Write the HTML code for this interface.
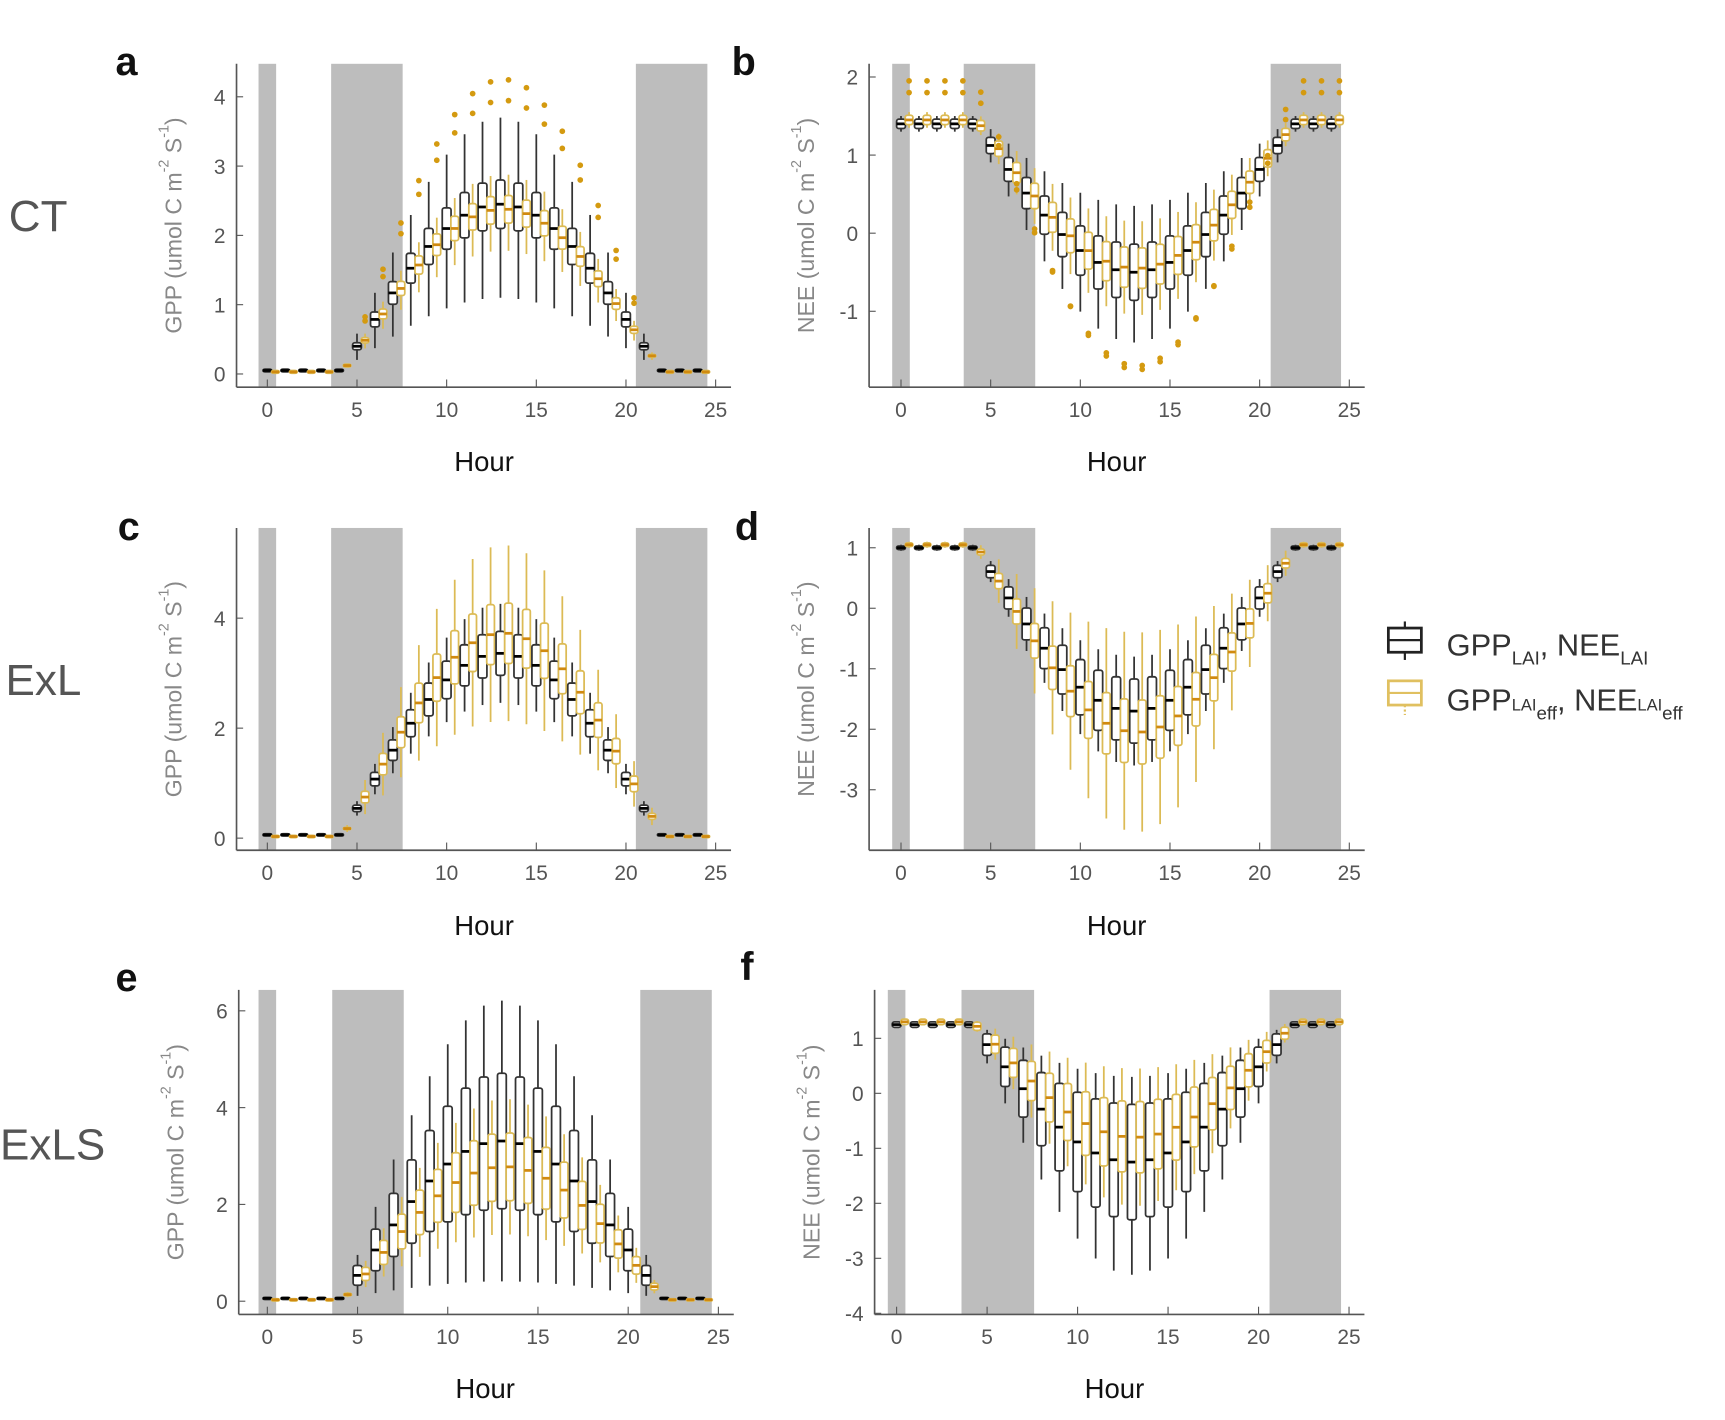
<!DOCTYPE html>
<html><head><meta charset="utf-8"><style>
html,body{margin:0;padding:0;background:#fff;}
svg{display:block;}
text{font-family:"Liberation Sans",sans-serif;}
</style></head><body>
<svg id="s" width="1725" height="1420" viewBox="0 0 1568 1291" preserveAspectRatio="none" xmlns="http://www.w3.org/2000/svg">
<rect width="1568" height="1291" fill="#fff"/>
<g font-weight="bold" font-size="36" fill="#111">
<text x="105" y="68">a</text><text x="665" y="68">b</text>
<text x="107" y="491">c</text><text x="668" y="491">d</text>
<text x="105" y="901">e</text><text x="673" y="891">f</text>
</g>
<g font-size="40" fill="#555">
<text x="8" y="210">CT</text><text x="5" y="632">ExL</text><text x="0" y="1054">ExLS</text>
</g>
<g font-size="25" fill="#111" text-anchor="middle">
<text x="440" y="428">Hour</text><text x="1015" y="428">Hour</text>
<text x="440" y="850">Hour</text><text x="1015" y="850">Hour</text>
<text x="441" y="1271">Hour</text><text x="1013" y="1271">Hour</text>
</g>
<g id="legend">
<rect x="1262" y="571" width="30" height="22" fill="#fff" stroke="#222" stroke-width="2.5"/>
<line x1="1262" y1="582" x2="1292" y2="582" stroke="#222" stroke-width="2"/>
<line x1="1277" y1="565" x2="1277" y2="571" stroke="#222" stroke-width="2"/>
<line x1="1277" y1="593" x2="1277" y2="600" stroke="#222" stroke-width="2"/>
<rect x="1262" y="619" width="30" height="22" fill="#fff" stroke="#e0c060" stroke-width="2.5"/>
<line x1="1262" y1="630" x2="1292" y2="630" stroke="#e0c060" stroke-width="2"/>
<line x1="1277" y1="641" x2="1277" y2="650" stroke="#e0c060" stroke-width="2" stroke-dasharray="2,2"/>
<text x="1315" y="596" font-size="28" fill="#333">GPP<tspan font-size="17" dy="8">LAI</tspan><tspan dy="-8">, NEE</tspan><tspan font-size="17" dy="8">LAI</tspan></text>
<text x="1315" y="646" font-size="28" fill="#333">GPP<tspan font-size="15">LAI</tspan><tspan font-size="17" dy="8">eff</tspan><tspan dy="-8">, NEE</tspan><tspan font-size="15">LAI</tspan><tspan font-size="17" dy="8">eff</tspan></text>
</g>
<g id="plots"></g>
</svg>
<script>
var NS="http://www.w3.org/2000/svg",G=document.getElementById("plots");
function el(t,a,txt){var e=document.createElementNS(NS,t);for(var k in a)e.setAttribute(k,a[k]);if(txt!==undefined)e.textContent=txt;G.appendChild(e);return e;}
function s(h){if(h<4||h>22)return 0;return Math.pow(Math.sin(Math.PI*(h-4)/18),1.1);}
var P=[
{ax:215,ay:352,top:58,x0:243,dx:16.3,y0:340,dy:63,ticks:[0,1,2,3,4],bands:[[235,251],[301,366],[578,643]],lab:"GPP",
 b:function(h){var v=s(h);return [0.05+2.4*v,0.35*v,1.25*v,1.35*v];},
 g:function(h){var v=s(h+0.3);return [0.03+2.35*v,0.2*v,0.5*v,0.6*v];},
 o:function(h){var v=s(h+0.3);return v>0.15?[4.25*v,3.95*v]:[];}},
{ax:790,ay:352,top:58,x0:819,dx:16.3,y0:212,dy:71,ticks:[-1,0,1,2],bands:[[811,827],[876,941],[1155,1219]],lab:"NEE",
 b:function(h){var v=s(h);return [1.4-1.9*v,0.06+0.3*v,0.1+0.75*v,0.1+0.8*v];},
 g:function(h){var v=s(h+0.3);return [1.45-1.9*v,0.06+0.2*v,0.1+0.5*v,0.1+0.5*v];},
 o:function(h){var v=s(h+0.3);return [1.95-3.7*v,1.8-3.5*v];}},
{ax:215,ay:773,top:480,x0:243,dx:16.3,y0:762,dy:50,ticks:[0,2,4],bands:[[235,251],[301,366],[578,643]],lab:"GPP",
 b:function(h){var v=s(h);return [0.06+3.3*v,0.4*v,0.9*v,0.9*v];},
 g:function(h){var v=s(h+0.3);return [0.03+3.7*v,0.55*v,1.6*v,1.6*v];},o:function(){return[];}},
{ax:790,ay:773,top:480,x0:819,dx:16.3,y0:553,dy:55,ticks:[-3,-2,-1,0,1],bands:[[811,827],[876,941],[1155,1219]],lab:"NEE",
 b:function(h){var v=s(h);return [1.0-2.7*v,0.03+0.5*v,0.05+0.85*v,0.05+0.85*v];},
 g:function(h){var v=s(h+0.3);return [1.05-3.1*v,0.03+0.5*v,0.05+1.6*v,0.05+1.6*v];},o:function(){return[];}},
{ax:217,ay:1195,top:900,x0:243,dx:16.4,y0:1183,dy:44,ticks:[0,2,4,6],bands:[[235,251],[302,367],[582,647]],lab:"GPP",
 b:function(h){var v=s(h);return [0.06+3.25*v,1.4*v,2.9*v,2.9*v];},
 g:function(h){var v=s(h+0.3);return [0.03+2.75*v,0.7*v,1.4*v,1.4*v];},o:function(){return[];}},
{ax:795,ay:1195,top:900,x0:815,dx:16.45,y0:994,dy:50,ticks:[-4,-3,-2,-1,0,1],bands:[[807,823],[874,940],[1154,1219]],lab:"NEE",
 b:function(h){var v=s(h);return [1.25-2.5*v,0.05+1.0*v,0.05+1.5*v,0.05+2.0*v];},
 g:function(h){var v=s(h+0.3);return [1.3-2.1*v,0.05+0.6*v,0.05+1.2*v,0.05+1.2*v];},o:function(){return[];}}
];
P.forEach(function(p){
 var right=p.x0+p.dx*25+14;
 p.bands.forEach(function(b){el("rect",{x:b[0],y:p.top,width:b[1]-b[0],height:p.ay-p.top,fill:"#bdbdbd"});});
 el("line",{x1:p.ax,y1:p.top,x2:p.ax,y2:p.ay,stroke:"#555","stroke-width":1.5});
 el("line",{x1:p.ax,y1:p.ay,x2:right,y2:p.ay,stroke:"#555","stroke-width":1.5});
 for(var t=0;t<=25;t+=5){var x=p.x0+t*p.dx;el("line",{x1:x,y1:p.ay,x2:x,y2:p.ay-7,stroke:"#555"});
  el("text",{x:x,y:p.ay+27,"font-size":19,fill:"#555","text-anchor":"middle"},""+t);}
 p.ticks.forEach(function(t){var y=p.y0-t*p.dy;el("line",{x1:p.ax,y1:y,x2:p.ax+6,y2:y,stroke:"#555"});
  el("text",{x:p.ax-10,y:y+7,"font-size":19,fill:"#555","text-anchor":"end"},""+t);});
 var cy=(p.top+p.ay)/2, lx=p.ax-50;
 var tx=el("text",{transform:"translate("+lx+","+cy+") rotate(-90)","font-size":21,fill:"#888","text-anchor":"middle"});
 tx.innerHTML=p.lab+" (umol C m<tspan font-size='13' dy='-12'>-2</tspan><tspan dy='12'> S</tspan><tspan font-size='13' dy='-12'>-1</tspan><tspan dy='12'>)</tspan>";
 function Y(v){return p.y0-v*p.dy;}
 function box(x,d,col,mcol,w){
  var m=d[0],bh=Math.max(d[1],0.02);
  el("line",{x1:x,y1:Y(m+d[2]),x2:x,y2:Y(m-d[3]),stroke:col,"stroke-width":1.6});
  el("rect",{x:x-w/2,y:Y(m+bh),width:w,height:Math.max(2,Y(m-bh)-Y(m+bh)),fill:"#fff",stroke:col,"stroke-width":1.6,rx:2});
  el("line",{x1:x-w/2,y1:Y(m),x2:x+w/2,y2:Y(m),stroke:mcol,"stroke-width":2.5});
 }
 for(var h=0;h<=24;h++){
  var xb=p.x0+h*p.dx, xg=xb+p.dx*0.45;
  box(xb,p.b(h),"#333","#000",8);
  box(xg,p.g(h),"#dcbb55","#d08a10",7);
  p.o(h).forEach(function(v){el("circle",{cx:xg,cy:Y(v),r:2.6,fill:"#d49a10"});});
 }
});
</script>
</body></html>
